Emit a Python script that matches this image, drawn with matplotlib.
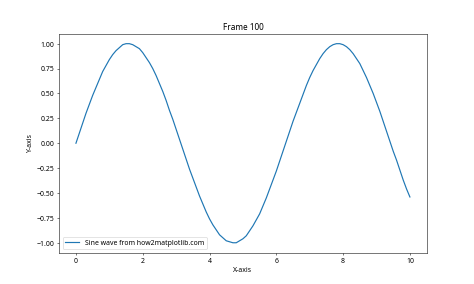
import matplotlib
matplotlib.use("Agg")
import numpy as np
import matplotlib.pyplot as plt

plt.rcParams['font.family'] = ['Noto Sans', 'DejaVu Sans']

# sample grid along x (0 to 10, step 0.1)
x_vals = np.round(np.arange(101) * 0.1, 1)
# curve heights at each grid point
y_vals = [0.00, 0.10, 0.20, 0.30, 0.39, 0.48, 0.56, 0.64, 0.72, 0.78,
          0.84, 0.89, 0.93, 0.96, 0.99, 1.00, 1.00, 0.99, 0.97, 0.95,
          0.91, 0.86, 0.81, 0.75, 0.68, 0.60, 0.52, 0.43, 0.33, 0.24,
          0.14, 0.04, -0.06, -0.16, -0.26, -0.35, -0.44, -0.53, -0.61, -0.69,
          -0.76, -0.82, -0.87, -0.92, -0.95, -0.98, -0.99, -1.00, -1.00, -0.98,
          -0.96, -0.93, -0.88, -0.83, -0.77, -0.71, -0.63, -0.55, -0.46, -0.37,
          -0.28, -0.18, -0.08, 0.02, 0.12, 0.22, 0.31, 0.40, 0.49, 0.58,
          0.66, 0.73, 0.79, 0.85, 0.90, 0.94, 0.97, 0.99, 1.00, 1.00,
          0.99, 0.97, 0.94, 0.90, 0.85, 0.80, 0.73, 0.66, 0.58, 0.50,
          0.41, 0.32, 0.22, 0.12, 0.02, -0.08, -0.17, -0.27, -0.37, -0.46,
          -0.54]

fig, ax = plt.subplots(figsize=(10, 6), dpi=47.4)
ax.plot(x_vals, y_vals, lw=1.8, label='Sine wave from how2matplotlib.com')
ax.set_title('Frame 100', fontsize=12.5)
ax.set_xlabel('X-axis', fontsize=10.5)
ax.set_ylabel('Y-axis', fontsize=10.5)
ax.tick_params(labelsize=10.5)
ax.legend(loc='lower left', fontsize=10.5)
fig.savefig('out.png')
